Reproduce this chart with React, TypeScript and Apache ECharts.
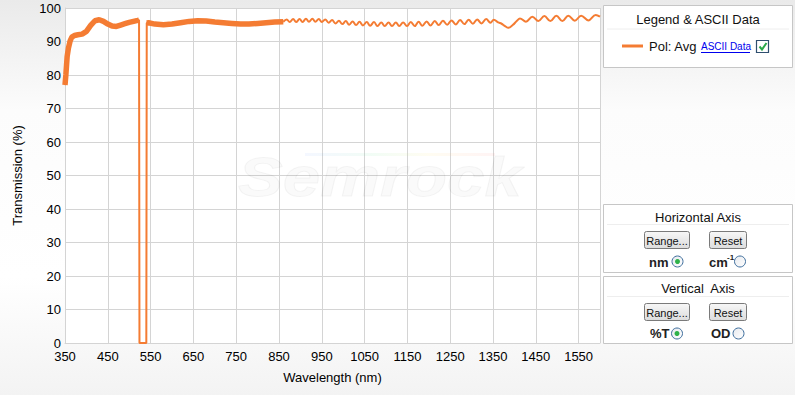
import React, { useEffect, useRef } from "react";
import * as echarts from "echarts";

// ---- data ----
const bandLambda1 = [350, 352, 355, 358, 362, 366, 372, 380, 390, 400, 410, 420, 430, 440, 450, 460, 470, 480, 490, 500, 510, 520, 523];
const bandT1 = [77, 80, 85.5, 88, 90.2, 91.3, 91.8, 92, 92.2, 93, 94.8, 96.2, 96.5, 96, 95.2, 94.6, 94.5, 94.9, 95.3, 95.7, 96, 96.3, 96.4];
const dropLambda = [524, 540];
const dropT = [0, 0];
const bandLambda2 = [541, 545, 560, 580, 600, 620, 640, 660, 680, 700, 720, 740, 760, 780, 800, 820, 840, 860];
const bandT2 = [95.5, 95.6, 95.2, 95, 95.2, 95.6, 96, 96.2, 96.1, 95.8, 95.6, 95.4, 95.2, 95.2, 95.4, 95.6, 95.8, 95.9];
const fringeLambda = [860, 868, 875, 883, 890, 898, 905, 913, 920, 928, 935, 943, 950, 958, 966, 974, 982, 990, 998, 1006, 1014, 1022, 1030, 1038, 1046, 1055, 1063, 1072, 1080, 1089, 1097, 1106, 1114, 1123, 1131, 1140, 1149, 1158, 1167, 1176, 1185, 1195, 1204, 1214, 1223, 1233, 1243, 1253, 1263, 1273, 1283, 1293, 1303, 1313, 1323, 1334, 1344, 1352, 1362, 1370, 1378, 1386, 1396, 1406, 1413, 1427, 1442, 1456, 1470, 1484, 1498, 1512, 1526, 1541, 1556, 1573, 1590, 1600];
const fringeT = [95.9, 96.6, 95.8, 96.7, 95.8, 96.7, 95.8, 96.8, 95.9, 96.8, 95.9, 96.7, 95.8, 96.6, 95.6, 96.4, 95.4, 96.2, 95.2, 96.1, 95.0, 96.0, 94.9, 95.9, 94.8, 95.8, 94.7, 95.8, 94.6, 95.7, 94.6, 95.7, 94.6, 95.7, 94.6, 95.7, 94.6, 95.8, 94.6, 95.9, 94.7, 96.0, 94.8, 96.1, 94.9, 96.2, 95.0, 96.3, 95.1, 96.4, 95.2, 96.5, 95.3, 96.6, 95.4, 96.7, 95.6, 96.5, 95.7, 95.3, 94.6, 94.1, 94.9, 96.2, 96.9, 95.9, 97.4, 96.1, 97.6, 96.1, 97.7, 96.1, 97.7, 96.2, 97.7, 96.3, 97.9, 97.4];

const seriesName = "Pol: Avg";
const xAxisTitle = "Wavelength (nm)";
const yAxisTitle = "Transmission (%)";
const xMin = 350;
const xMax = 1600;
const xStep = 100;
const yMin = 0;
const yMax = 100;
const yStep = 10;

const ORANGE = "#f47c33";
const FONT = "'Liberation Sans', Arial, sans-serif";

const zip = (a: number[], b: number[]) => a.map((v, i) => [v, b[i]]);

function button(x: number, y: number, w: number, h: number, label: string) {
  return [
    {
      type: "rect",
      shape: { x, y, width: w, height: h, r: 2 },
      style: {
        fill: new echarts.graphic.LinearGradient(0, 0, 0, 1, [
          { offset: 0, color: "#f7f7f7" },
          { offset: 1, color: "#dcdcdc" },
        ]),
        stroke: "#7a7a7a",
        lineWidth: 1,
      },
    },
    {
      type: "text",
      x: x + w / 2,
      y: y + h / 2 + 0.5,
      style: { text: label, fill: "#111", fontSize: 11, fontFamily: FONT, align: "center", verticalAlign: "middle" },
    },
  ];
}

function radio(cx: number, cy: number, selected: boolean) {
  const els: any[] = [
    {
      type: "circle",
      shape: { cx, cy, r: 5.5 },
      style: {
        fill: new echarts.graphic.LinearGradient(0, 0, 1, 1, [
          { offset: 0, color: "#e6e9ee" },
          { offset: 1, color: "#ffffff" },
        ]),
        stroke: "#3d6d9c",
        lineWidth: 1,
      },
    },
  ];
  if (selected) {
    els.push({ type: "circle", shape: { cx, cy, r: 2.5 }, style: { fill: "#2fb24a" } });
  }
  return els;
}

function panelBox(y: number, h: number, title: string, titleY: number, sepY: number) {
  return [
    { type: "rect", shape: { x: 603.5, y: y + 0.5, width: 189, height: h }, style: { fill: "#ffffff", stroke: "#c6c6c6", lineWidth: 1 } },
    { type: "line", shape: { x1: 607, y1: sepY, x2: 789, y2: sepY }, style: { stroke: "#eeeeee", lineWidth: 1 } },
    {
      type: "text",
      x: 698,
      y: titleY,
      style: { text: title, fill: "#111", fontSize: 13, fontFamily: FONT, align: "center", verticalAlign: "middle" },
    },
  ];
}

export default function App() {
  const ref = useRef<HTMLDivElement>(null);

  useEffect(() => {
    if (!ref.current) return;
    const chart = echarts.init(ref.current, null, { renderer: "svg" });

    const mainData = [
      ...zip(bandLambda1, bandT1),
      ...zip(dropLambda, dropT),
      ...zip(bandLambda2, bandT2),
    ];
    const bandData = [...zip(bandLambda1, bandT1), [null, null], ...zip(bandLambda2, bandT2)];
    const fringeData = zip(fringeLambda, fringeT);

    const graphics: any[] = [
      // watermark
      {
        type: "text",
        x: 238,
        y: 149,
        scaleX: 1.2,
        z: 1,
        silent: true,
        style: {
          text: "Semrock",
          fontSize: 56,
          fontStyle: "italic",
          fontWeight: "bold",
          fontFamily: FONT,
          fill: "rgba(0,0,0,0.018)",
          stroke: "rgba(0,0,0,0.045)",
          lineWidth: 1,
        },
      },
      {
        type: "rect",
        z: 1,
        silent: true,
        shape: { x: 305, y: 153, width: 190, height: 3 },
        style: {
          fill: new echarts.graphic.LinearGradient(0, 0, 1, 0, [
            { offset: 0, color: "rgba(120,160,255,0.08)" },
            { offset: 0.35, color: "rgba(120,230,160,0.10)" },
            { offset: 0.65, color: "rgba(255,230,120,0.10)" },
            { offset: 1, color: "rgba(255,120,120,0.08)" },
          ]),
        },
      },
      // legend box
      ...panelBox(5, 62, "Legend & ASCII Data", 19, 29),
      { type: "line", shape: { x1: 622, y1: 46, x2: 643, y2: 46 }, style: { stroke: ORANGE, lineWidth: 3 } },
      {
        type: "text",
        x: 649,
        y: 46.5,
        style: { text: seriesName, fill: "#111", fontSize: 13, fontFamily: FONT, verticalAlign: "middle" },
      },
      {
        type: "text",
        x: 701,
        y: 46.5,
        style: { text: "ASCII Data", fill: "#0000ee", fontSize: 10, fontFamily: FONT, verticalAlign: "middle" },
      },
      { type: "line", shape: { x1: 701, y1: 52.5, x2: 750, y2: 52.5 }, style: { stroke: "#0000ee", lineWidth: 1 } },
      { type: "rect", shape: { x: 756.5, y: 40.5, width: 12, height: 12 }, style: { fill: "#fff", stroke: "#2f4f6f", lineWidth: 1.2 } },
      {
        type: "polyline",
        shape: { points: [[759.5, 46.5], [762, 49.5], [766.5, 43]] },
        style: { stroke: "#2aa84a", lineWidth: 2, fill: "none" },
      },
      // horizontal axis box
      ...panelBox(204, 68, "Horizontal Axis", 217, 224.5),
      ...button(644.5, 231.5, 45, 17, "Range..."),
      ...button(709.5, 231.5, 37, 17, "Reset"),
      {
        type: "text",
        x: 649,
        y: 262,
        style: { text: "nm", fill: "#222", fontSize: 13, fontWeight: "bold", fontFamily: FONT, verticalAlign: "middle" },
      },
      ...radio(677.5, 261.5, true),
      {
        type: "text",
        x: 709,
        y: 262,
        style: { text: "cm", fill: "#222", fontSize: 13, fontWeight: "bold", fontFamily: FONT, verticalAlign: "middle" },
      },
      {
        type: "text",
        x: 727,
        y: 257,
        style: { text: "-1", fill: "#222", fontSize: 8, fontWeight: "bold", fontFamily: FONT, verticalAlign: "middle" },
      },
      ...radio(740, 261.5, false),
      // vertical axis box
      ...panelBox(276, 67, "Vertical  Axis", 288.5, 296.5),
      ...button(644.5, 303.5, 45, 17, "Range..."),
      ...button(709.5, 303.5, 37, 17, "Reset"),
      {
        type: "text",
        x: 650,
        y: 333.5,
        style: { text: "%T", fill: "#222", fontSize: 13, fontWeight: "bold", fontFamily: FONT, verticalAlign: "middle" },
      },
      ...radio(677, 333.5, true),
      {
        type: "text",
        x: 711,
        y: 333.5,
        style: { text: "OD", fill: "#222", fontSize: 13, fontWeight: "bold", fontFamily: FONT, verticalAlign: "middle" },
      },
      ...radio(738.5, 333.5, false),
    ];

    chart.setOption({
      animation: false,
      backgroundColor: new echarts.graphic.LinearGradient(0, 0, 0, 1, [
        { offset: 0, color: "#eaeaea" },
        { offset: 0.28, color: "#fcfcfc" },
        { offset: 0.7, color: "#ffffff" },
        { offset: 1, color: "#f3f3f3" },
      ]),
      textStyle: { fontFamily: FONT },
      grid: {
        left: 65,
        right: 195,
        top: 8,
        bottom: 52,
        show: true,
        backgroundColor: "#ffffff",
        borderWidth: 0,
      },
      xAxis: {
        type: "value",
        min: xMin,
        max: xMax,
        interval: xStep,
        name: xAxisTitle,
        nameLocation: "middle",
        nameGap: 28,
        nameTextStyle: { color: "#000", fontSize: 13, fontFamily: FONT },
        axisLine: { show: true, lineStyle: { color: "#d4d4d4", width: 1 } },
        axisTick: { show: false },
        axisLabel: {
          color: "#000",
          fontSize: 13,
          margin: 7,
          showMaxLabel: false,
          fontFamily: FONT,
          formatter: (v: number) => String(v),
        },
        splitLine: { show: true, lineStyle: { color: "#d4d4d4", width: 1 } },
      },
      yAxis: {
        type: "value",
        min: yMin,
        max: yMax,
        interval: yStep,
        name: yAxisTitle,
        nameLocation: "middle",
        nameGap: 41,
        nameTextStyle: { color: "#000", fontSize: 13, fontFamily: FONT },
        axisLine: { show: true, lineStyle: { color: "#d4d4d4", width: 1 } },
        axisTick: { show: false },
        axisLabel: { color: "#000", fontSize: 13, margin: 4, fontFamily: FONT },
        splitLine: { show: true, lineStyle: { color: "#d4d4d4", width: 1 } },
      },
      series: [
        {
          name: seriesName,
          type: "line",
          data: bandData,
          showSymbol: false,
          connectNulls: false,
          lineStyle: { color: ORANGE, width: 5.5 },
          itemStyle: { color: ORANGE },
          z: 3,
          silent: true,
        },
        {
          name: seriesName,
          type: "line",
          data: mainData,
          showSymbol: false,
          lineStyle: { color: ORANGE, width: 2 },
          itemStyle: { color: ORANGE },
          z: 4,
        },
        {
          name: seriesName,
          type: "line",
          data: fringeData,
          showSymbol: false,
          smooth: 0.4,
          lineStyle: { color: ORANGE, width: 2 },
          itemStyle: { color: ORANGE },
          z: 4,
        },
      ],
      graphic: graphics,
    });

    return () => {
      chart.dispose();
    };
  }, []);

  return <div ref={ref} style={{ position: "absolute", left: 0, top: 0, width: 795, height: 395 }} />;
}
